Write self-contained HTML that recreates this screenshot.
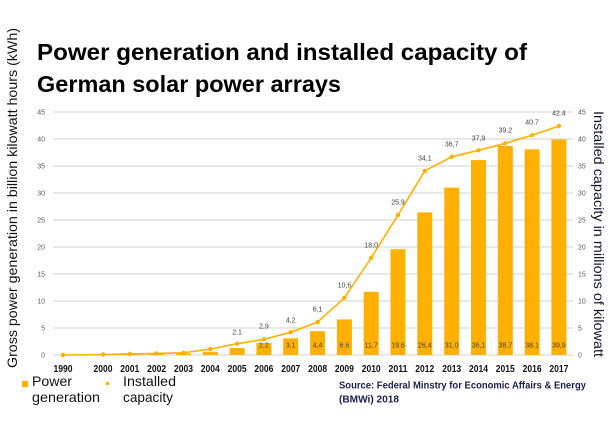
<!DOCTYPE html>
<html><head><meta charset="utf-8"><style>
html,body{margin:0;padding:0;background:#fff;}
svg{display:block;}
</style></head><body>
<svg width="612" height="422" viewBox="0 0 612 422" xmlns="http://www.w3.org/2000/svg" font-family="'Liberation Sans', sans-serif">
<rect width="612" height="422" fill="#fff"/>
<!-- Title -->
<text x="37" y="60" font-size="23" font-weight="bold" fill="#000" textLength="490" lengthAdjust="spacingAndGlyphs">Power generation and installed capacity of</text>
<text x="37" y="92" font-size="23" font-weight="bold" fill="#000" textLength="304" lengthAdjust="spacingAndGlyphs">German solar power arrays</text>

<!-- gridlines -->
<g stroke="#d9d9d9" stroke-width="1.3">
<line x1="53" y1="112" x2="573" y2="112"/>
<line x1="53" y1="139" x2="573" y2="139"/>
<line x1="53" y1="166" x2="573" y2="166"/>
<line x1="53" y1="193" x2="573" y2="193"/>
<line x1="53" y1="220" x2="573" y2="220"/>
<line x1="53" y1="247" x2="573" y2="247"/>
<line x1="53" y1="274" x2="573" y2="274"/>
<line x1="53" y1="301" x2="573" y2="301"/>
<line x1="53" y1="328" x2="573" y2="328"/>
<line x1="53" y1="355" x2="573" y2="355"/>
</g>

<!-- left ticks -->
<g font-size="7" fill="#595959" text-anchor="end">
<text x="45" y="114.5">45</text>
<text x="45" y="141.5">40</text>
<text x="45" y="168.5">35</text>
<text x="45" y="195.5">30</text>
<text x="45" y="222.5">25</text>
<text x="45" y="249.5">20</text>
<text x="45" y="276.5">15</text>
<text x="45" y="303.5">10</text>
<text x="45" y="330.5">5</text>
<text x="45" y="357.5">0</text>
</g>
<!-- right ticks -->
<g font-size="7" fill="#595959" text-anchor="start">
<text x="578" y="114.5">45</text>
<text x="578" y="141.5">40</text>
<text x="578" y="168.5">35</text>
<text x="578" y="195.5">30</text>
<text x="578" y="222.5">25</text>
<text x="578" y="249.5">20</text>
<text x="578" y="276.5">15</text>
<text x="578" y="303.5">10</text>
<text x="578" y="330.5">5</text>
<text x="578" y="357.5">0</text>
</g>

<!-- bars -->
<g fill="#FFB000">
<rect x="95.5" y="354.7" width="15" height="0.3"/>
<rect x="122.3" y="354.5" width="15" height="0.5"/>
<rect x="149.1" y="353.9" width="15" height="1.1"/>
<rect x="176" y="353.4" width="15" height="1.6"/>
<rect x="202.8" y="351.8" width="15" height="3.2"/>
<rect x="229.6" y="348" width="15" height="7"/>
<rect x="256.4" y="343.1" width="15" height="11.9"/>
<rect x="283.2" y="338.3" width="15" height="16.7"/>
<rect x="310.1" y="331.2" width="15" height="23.8"/>
<rect x="336.9" y="319.4" width="15" height="35.6"/>
<rect x="363.7" y="291.8" width="15" height="63.2"/>
<rect x="390.5" y="249.2" width="15" height="105.8"/>
<rect x="417.3" y="212.4" width="15" height="142.6"/>
<rect x="444.2" y="187.6" width="15" height="167.4"/>
<rect x="471" y="160.1" width="15" height="194.9"/>
<rect x="497.8" y="146" width="15" height="209"/>
<rect x="524.6" y="149.3" width="15" height="205.7"/>
<rect x="551.4" y="139.5" width="15" height="215.5"/>
</g>

<!-- bar labels -->
<g font-size="7" fill="#404040" text-anchor="middle">
<text x="263.9" y="347.5">2.2</text>
<text x="290.7" y="347.5">3.1</text>
<text x="317.6" y="347.5">4,4</text>
<text x="344.4" y="347.5">6.6</text>
<text x="371.2" y="347.5">11,7</text>
<text x="398" y="347.5">19.6</text>
<text x="424.8" y="347.5">26,4</text>
<text x="451.7" y="347.5">31.0</text>
<text x="478.5" y="347.5">36,1</text>
<text x="505.3" y="347.5">38,7</text>
<text x="532.1" y="347.5">38.1</text>
<text x="558.9" y="347.5">39,9</text>
</g>

<!-- line -->
<polyline fill="none" stroke="#FFB000" stroke-width="1.6" stroke-linejoin="round"
points="63,355 103,354.5 129.8,353.9 156.6,353.4 183.5,352.8 210.3,349.1 237.1,343.7 263.9,339.3 290.7,332.3 317.6,322.1 344.4,297.8 371.2,257.8 398,215.1 424.8,170.9 451.7,156.8 478.5,150.3 505.3,143.3 532.1,135.2 558.9,126"/>
<g fill="#FFB000">
<circle cx="63" cy="355" r="2.2"/>
<circle cx="103" cy="354.5" r="2.2"/>
<circle cx="129.8" cy="353.9" r="2.2"/>
<circle cx="156.6" cy="353.4" r="2.2"/>
<circle cx="183.5" cy="352.8" r="2.2"/>
<circle cx="210.3" cy="349.1" r="2.2"/>
<circle cx="237.1" cy="343.7" r="2.2"/>
<circle cx="263.9" cy="339.3" r="2.2"/>
<circle cx="290.7" cy="332.3" r="2.2"/>
<circle cx="317.6" cy="322.1" r="2.2"/>
<circle cx="344.4" cy="297.8" r="2.2"/>
<circle cx="371.2" cy="257.8" r="2.2"/>
<circle cx="398" cy="215.1" r="2.2"/>
<circle cx="424.8" cy="170.9" r="2.2"/>
<circle cx="451.7" cy="156.8" r="2.2"/>
<circle cx="478.5" cy="150.3" r="2.2"/>
<circle cx="505.3" cy="143.3" r="2.2"/>
<circle cx="532.1" cy="135.2" r="2.2"/>
<circle cx="558.9" cy="126" r="2.2"/>
</g>

<!-- line labels -->
<g font-size="7" fill="#404040" text-anchor="middle">
<text x="237.1" y="334.5">2.1</text>
<text x="263.9" y="328.5">2,9</text>
<text x="290.7" y="322.5">4,2</text>
<text x="317.6" y="311.5">6,1</text>
<text x="344.4" y="287.5">10,6</text>
<text x="371.2" y="247.5">18,0</text>
<text x="398" y="204.5">25,9</text>
<text x="424.8" y="160.5">34,1</text>
<text x="451.7" y="146.5">36,7</text>
<text x="478.5" y="140.5">37,9</text>
<text x="505.3" y="132.5">39.2</text>
<text x="532.1" y="124.5">40.7</text>
<text x="558.9" y="115.5">42.4</text>
</g>

<!-- x labels -->
<g font-size="10" font-weight="bold" fill="#111" text-anchor="middle">
<text x="63" y="372" textLength="19" lengthAdjust="spacingAndGlyphs">1990</text>
<text x="103" y="372" textLength="19" lengthAdjust="spacingAndGlyphs">2000</text>
<text x="129.8" y="372" textLength="19" lengthAdjust="spacingAndGlyphs">2001</text>
<text x="156.6" y="372" textLength="19" lengthAdjust="spacingAndGlyphs">2002</text>
<text x="183.5" y="372" textLength="19" lengthAdjust="spacingAndGlyphs">2003</text>
<text x="210.3" y="372" textLength="19" lengthAdjust="spacingAndGlyphs">2004</text>
<text x="237.1" y="372" textLength="19" lengthAdjust="spacingAndGlyphs">2005</text>
<text x="263.9" y="372" textLength="19" lengthAdjust="spacingAndGlyphs">2006</text>
<text x="290.7" y="372" textLength="19" lengthAdjust="spacingAndGlyphs">2007</text>
<text x="317.6" y="372" textLength="19" lengthAdjust="spacingAndGlyphs">2008</text>
<text x="344.4" y="372" textLength="19" lengthAdjust="spacingAndGlyphs">2009</text>
<text x="371.2" y="372" textLength="19" lengthAdjust="spacingAndGlyphs">2010</text>
<text x="398" y="372" textLength="19" lengthAdjust="spacingAndGlyphs">2011</text>
<text x="424.8" y="372" textLength="19" lengthAdjust="spacingAndGlyphs">2012</text>
<text x="451.7" y="372" textLength="19" lengthAdjust="spacingAndGlyphs">2013</text>
<text x="478.5" y="372" textLength="19" lengthAdjust="spacingAndGlyphs">2014</text>
<text x="505.3" y="372" textLength="19" lengthAdjust="spacingAndGlyphs">2015</text>
<text x="532.1" y="372" textLength="19" lengthAdjust="spacingAndGlyphs">2016</text>
<text x="558.9" y="372" textLength="19" lengthAdjust="spacingAndGlyphs">2017</text>
</g>

<!-- axis titles -->
<text transform="translate(17,198) rotate(-90)" font-size="14" fill="#111" text-anchor="middle" textLength="340" lengthAdjust="spacingAndGlyphs">Gross power generation in billion kilowatt hours (kWh)</text>
<text transform="translate(594,234) rotate(90)" font-size="14" fill="#14142e" text-anchor="middle" textLength="246" lengthAdjust="spacingAndGlyphs">Installed capacity in millions of kilowatt</text>

<!-- legend -->
<rect x="22" y="381" width="6" height="6" fill="#FFB000"/>
<text x="32" y="386" font-size="14" fill="#111" textLength="40" lengthAdjust="spacingAndGlyphs">Power</text>
<text x="32" y="402" font-size="14" fill="#111" textLength="68" lengthAdjust="spacingAndGlyphs">generation</text>
<circle cx="107.5" cy="383.5" r="1.8" fill="#FFB000"/>
<text x="123" y="386" font-size="14" fill="#111" textLength="53" lengthAdjust="spacingAndGlyphs">Installed</text>
<text x="123" y="402" font-size="14" fill="#111" textLength="50" lengthAdjust="spacingAndGlyphs">capacity</text>

<!-- source -->
<text x="339" y="388.5" font-size="10" font-weight="bold" fill="#1a1f4a" textLength="247" lengthAdjust="spacingAndGlyphs">Source: Federal Minstry for Economic Affairs &amp; Energy</text>
<text x="339" y="402.5" font-size="10" font-weight="bold" fill="#1a1f4a" textLength="60" lengthAdjust="spacingAndGlyphs">(BMWi) 2018</text>
</svg>
</body></html>
